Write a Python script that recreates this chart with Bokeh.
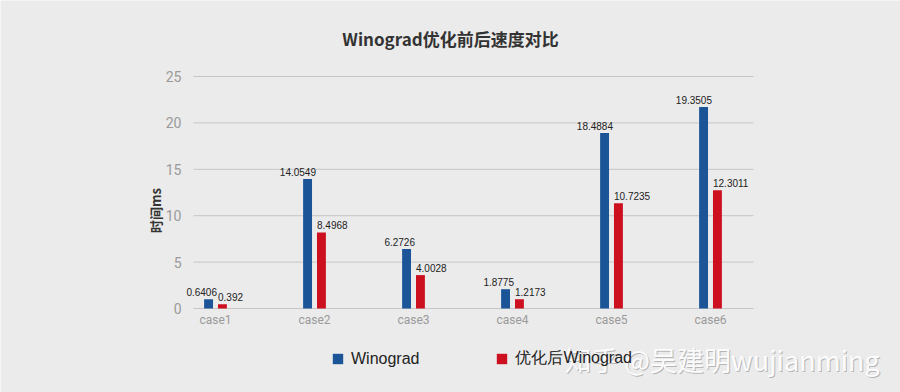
import math
from bokeh.plotting import figure
from bokeh.models import (ColumnDataSource, Legend, LegendItem, Label,
                          FixedTicker, Range1d)
from bokeh.transform import dodge
from bokeh.core.properties import value
from bokeh.embed import file_html
from bokeh.resources import INLINE

# ---- data ----
cases = ["case1", "case2", "case3", "case4", "case5", "case6"]
before_heights = [1.0, 13.95, 6.4, 2.08, 18.9, 21.7]      # bar heights as drawn
after_heights = [0.46, 8.2, 3.6, 1.0, 11.35, 12.75]
before_labels = ["0.6406", "14.0549", "6.2726", "1.8775", "18.4884", "19.3505"]
after_labels = ["0.392", "8.4968", "4.0028", "1.2173", "10.7235", "12.3011"]
y_ticks = [0, 5, 10, 15, 20, 25]
series_names = ["Winograd", "优化后Winograd"]
title_text = "Winograd优化前后速度对比"
y_title = "时间ms"
watermark = "知乎 @吴建明wujianming"

xs = list(range(len(cases)))
src = ColumnDataSource(dict(x=xs, before=before_heights, after=after_heights,
                            blab=before_labels, alab=after_labels))

W, H = 900, 392
BG = "#ebebeb"
BLUE = "#1b5598"
RED = "#cc1020"
# pixel geometry of the plotting area (frame spans whole canvas)
PX_X0, PX_PER_X = 215.0, 99.0      # pixel of category 0, px per category
PX_Y0, PX_PER_Y = 308.0, 9.28      # pixel of value 0, px per unit
GRID_X0 = (193 - PX_X0) / PX_PER_X
GRID_X1 = (753 - PX_X0) / PX_PER_X

p = figure(width=W, height=H, output_backend="svg", toolbar_location=None,
           x_range=Range1d(-PX_X0 / PX_PER_X, (W - PX_X0) / PX_PER_X),
           y_range=Range1d(-(H - PX_Y0) / PX_PER_Y, PX_Y0 / PX_PER_Y),
           min_border=0)
p.title.visible = False
p.background_fill_color = BG
p.border_fill_color = BG
p.outline_line_color = None
p.xgrid.grid_line_color = None
p.ygrid.grid_line_color = None

# axes drawn inside the frame at fixed positions
p.yaxis.fixed_location = GRID_X0
p.yaxis.ticker = FixedTicker(ticks=y_ticks)
p.yaxis.axis_line_color = None
p.yaxis.major_tick_line_color = None
p.yaxis.minor_tick_line_color = None
p.yaxis.major_label_standoff = 6
p.yaxis.major_label_text_font = "Roboto"
p.yaxis.major_label_text_font_size = "14px"
p.yaxis.major_label_text_color = "#9a9a9a"

p.xaxis.fixed_location = 0
p.xaxis.ticker = FixedTicker(ticks=xs)
p.xaxis.major_label_overrides = {i: c for i, c in enumerate(cases)}
p.xaxis.axis_line_color = None
p.xaxis.major_tick_line_color = None
p.xaxis.minor_tick_line_color = None
p.xaxis.major_label_standoff = -2
p.xaxis.major_label_text_font = "Roboto"
p.xaxis.major_label_text_font_size = "12px"
p.xaxis.major_label_text_color = "#9a9a9a"

# horizontal gridlines at the tick values
p.segment(x0=GRID_X0, x1=GRID_X1, y0=y_ticks, y1=y_ticks,
          line_color="#c6c6c6", line_width=1)

# bars
r1 = p.vbar(x=dodge("x", -0.07, range=p.x_range), top="before", width=0.09,
            source=src, fill_color=BLUE, line_color=None)
r2 = p.vbar(x=dodge("x", 0.07, range=p.x_range), top="after", width=0.09,
            source=src, fill_color=RED, line_color=None)

# value labels
p.text(x=dodge("x", 0.015, range=p.x_range), y="before", text="blab", source=src,
       text_align="right", text_baseline="bottom", y_offset=-3,
       text_font=value("Liberation Sans"), text_font_size="10px",
       text_color="#222222")
p.text(x=dodge("x", 0.025, range=p.x_range), y="after", text="alab", source=src,
       text_align="left", text_baseline="bottom", y_offset=-3,
       text_font=value("Liberation Sans"), text_font_size="10px",
       text_color="#222222")

# y-axis title
p.add_layout(Label(x=155, y=H - 210, x_units="screen", y_units="screen",
                   text=y_title, angle=math.pi / 2, text_align="center",
                   text_baseline="middle", text_font="Noto Sans CJK SC",
                   text_font_style="bold", text_font_size="13px",
                   text_color="#333333"))

# chart title
p.add_layout(Label(x=450, y=H - 38, x_units="screen", y_units="screen",
                   text=title_text, text_align="center", text_baseline="middle",
                   text_font="Noto Sans CJK SC", text_font_style="bold",
                   text_font_size="17px", text_color="#333333"))

# legend
legend = Legend(items=[LegendItem(label=series_names[0], renderers=[r1]),
                       LegendItem(label=series_names[1], renderers=[r2])],
                orientation="horizontal", location=(331, H - 369),
                glyph_width=13, glyph_height=13, label_standoff=7, spacing=76,
                padding=0, margin=0, border_line_color=None,
                background_fill_alpha=0,
                label_text_font="Liberation Sans", label_text_font_size="16px",
                label_text_color="#222222", label_height=20)
p.add_layout(legend, "center")

# watermark (white text with soft shadow)
p.add_layout(Label(x=565, y=H - 360, x_units="screen", y_units="screen",
                   text=watermark, text_align="left", text_baseline="middle",
                   text_font="Noto Sans CJK SC", text_font_size="27px",
                   text_color="#8a8a8a", text_alpha=0.55))
p.add_layout(Label(x=564, y=H - 359, x_units="screen", y_units="screen",
                   text=watermark, text_align="left", text_baseline="middle",
                   text_font="Noto Sans CJK SC", text_font_size="27px",
                   text_color="#ffffff", text_alpha=0.95))

open("out.html", "w").write(file_html(p, INLINE))
